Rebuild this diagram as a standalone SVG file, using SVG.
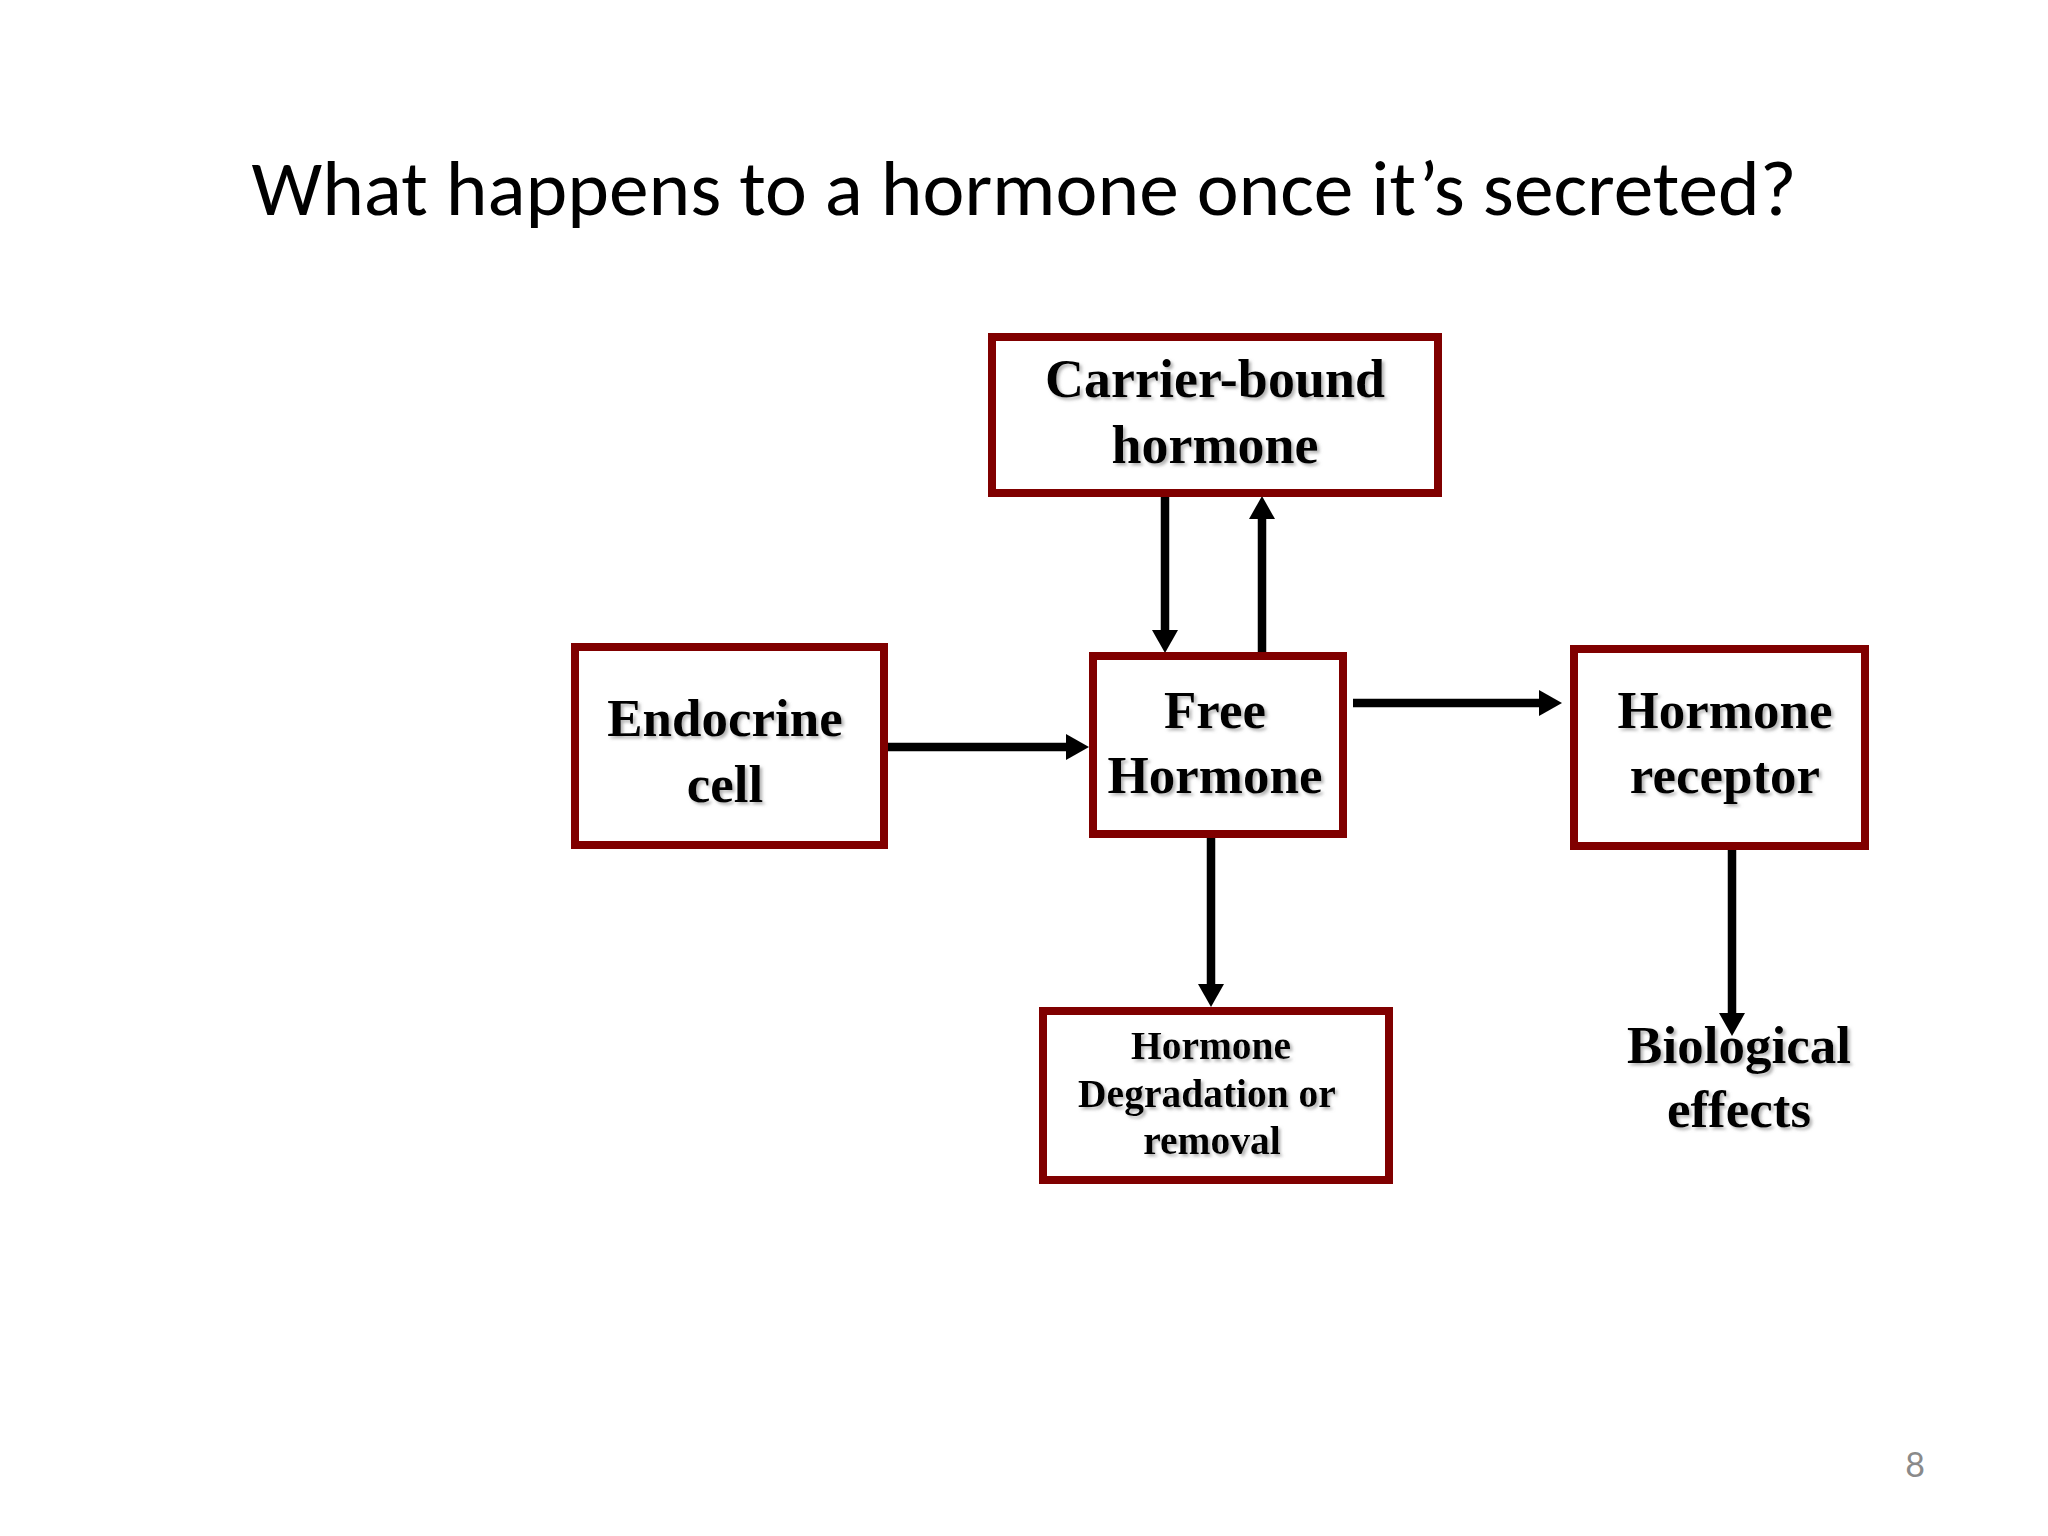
<svg xmlns="http://www.w3.org/2000/svg" width="2048" height="1536" viewBox="0 0 2048 1536">
  <defs>
    <marker id="ah" markerUnits="userSpaceOnUse" markerWidth="28" markerHeight="28" refX="4" refY="13" orient="auto">
      <path d="M0,0 L23,13 L0,26 z" fill="#000"/>
    </marker>
    <filter id="sh" x="-10%" y="-20%" width="120%" height="140%">
      <feDropShadow dx="2.5" dy="2.5" stdDeviation="1.5" flood-color="#777" flood-opacity="0.55"/>
    </filter>
  </defs>
  <style>
    .box { fill: #ffffff; stroke: #800000; stroke-width: 8; }
    .lbl { font-family: "Liberation Serif", "Times New Roman", serif; font-weight: bold; fill: #000; text-anchor: middle; filter: url(#sh); }
    .big { font-size: 53px; }
    .mid { font-size: 54px; }
    .sm { font-size: 39.5px; }
    .conn line { stroke: #000; stroke-width: 8.5; marker-end: url(#ah); }
  </style>
  <rect width="2048" height="1536" fill="#ffffff"/>

  <text id="title" x="1024" y="215" font-family="Carlito, Lato, 'Open Sans', sans-serif" font-size="78" fill="#000" text-anchor="middle" textLength="1545" lengthAdjust="spacingAndGlyphs">What happens to a hormone once it’s secreted?</text>

  <g id="connectors" class="conn">
    <line x1="1165" y1="497" x2="1165" y2="634"/>
    <line x1="1262" y1="652" x2="1262" y2="515"/>
    <line x1="888" y1="747" x2="1070" y2="747"/>
    <line x1="1353" y1="703" x2="1543" y2="703"/>
    <line x1="1211" y1="838" x2="1211" y2="988"/>
    <line x1="1732" y1="850" x2="1732" y2="1017"/>
  </g>

  <g id="carrier">
    <rect class="box" x="992" y="337" width="446" height="156"/>
    <text class="lbl mid" x="1215" y="397">Carrier-bound</text>
    <text class="lbl mid" x="1215" y="463">hormone</text>
  </g>

  <g id="endocrine">
    <rect class="box" x="575" y="647" width="309" height="198"/>
    <text class="lbl big" x="725" y="736">Endocrine</text>
    <text class="lbl big" x="725" y="802">cell</text>
  </g>

  <g id="free">
    <rect class="box" x="1093" y="656" width="250" height="178"/>
    <text class="lbl big" x="1215" y="728">Free</text>
    <text class="lbl big" x="1215" y="793">Hormone</text>
  </g>

  <g id="receptor">
    <rect class="box" x="1574" y="649" width="291" height="197"/>
    <text class="lbl big" x="1725" y="728">Hormone</text>
    <text class="lbl big" x="1725" y="793">receptor</text>
  </g>

  <g id="degradation">
    <rect class="box" x="1043" y="1011" width="346" height="169"/>
    <text class="lbl sm" x="1211" y="1059">Hormone</text>
    <text class="lbl sm" x="1207" y="1107">Degradation or</text>
    <text class="lbl sm" x="1212" y="1154">removal</text>
  </g>

  <g id="biological">
    <text class="lbl big" x="1739" y="1063">Biological</text>
    <text class="lbl big" x="1739" y="1127">effects</text>
  </g>

  <text id="page" x="1915" y="1477" font-family="Lato, 'Liberation Sans', sans-serif" font-size="34" fill="#8a8a8a" text-anchor="middle">8</text>
</svg>
